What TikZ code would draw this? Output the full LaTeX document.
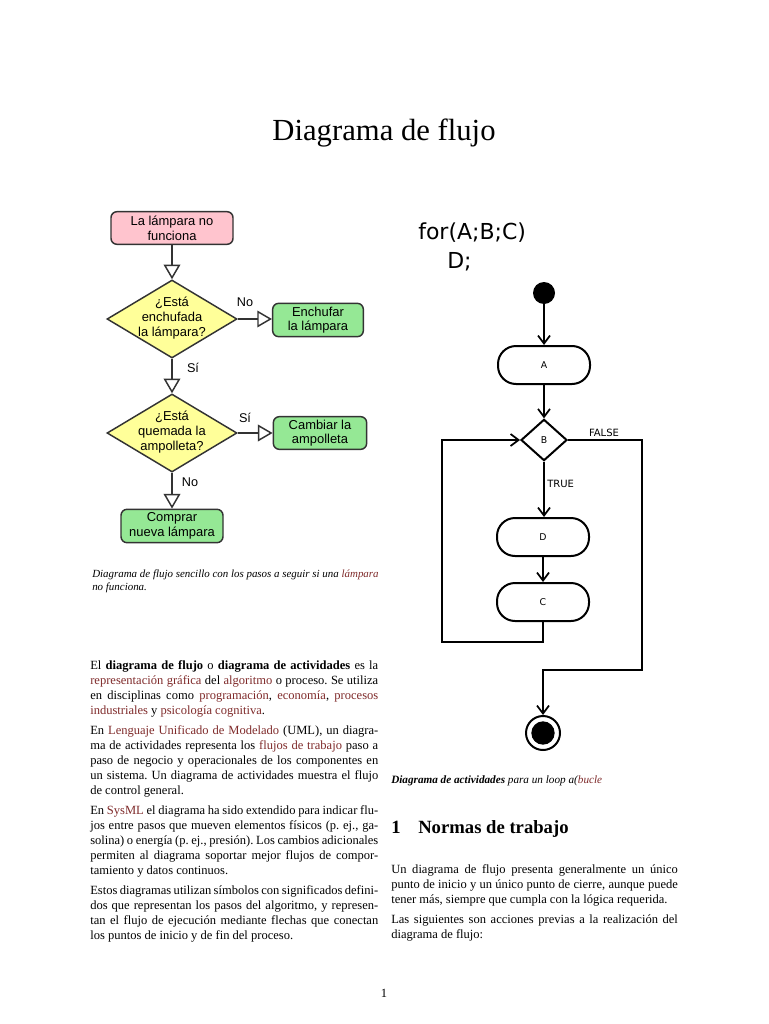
\documentclass[tikz,border=0pt]{standalone}
\usepackage{fontspec}
\setmainfont{Liberation Serif}
\setsansfont{Liberation Sans}
\newfontfamily\dvs{DejaVu Sans}
\usetikzlibrary{arrows.meta,shapes.geometric}
\definecolor{linkred}{HTML}{7F2A2A}
\definecolor{fcpink}{HTML}{FFC4CE}
\definecolor{fcgreen}{HTML}{95E895}
\definecolor{fcyellow}{HTML}{FFFF99}
\definecolor{fcline}{HTML}{333333}
\newcommand\lk[1]{\textcolor{linkred}{#1}}
\newcommand\jl[1]{\makebox[216pt][s]{#1}}
\newcommand\jr[1]{\makebox[215pt][s]{#1}}
\begin{document}
\begin{tikzpicture}[x=0.75pt,y=-0.75pt,
  fcbox/.style={draw=fcline, line width=1.1pt, rounded corners=4.5pt, align=center, inner sep=0pt,
    font=\sffamily\fontsize{9.7}{11}\selectfont},
  fcdia/.style={diamond, draw=fcline, line width=1.1pt, fill=fcyellow, inner sep=0pt,
    minimum width=97.5pt, minimum height=58.5pt},
  fctext/.style={align=center, inner sep=0pt, font=\sffamily\fontsize{9.7}{11}\selectfont},
  fcarrow/.style={draw=fcline, line width=1.1pt, -{Triangle[open,length=11pt,width=12.5pt]}},
  fclab/.style={inner sep=0pt, font=\sffamily\fontsize{9.5}{11}\selectfont},
  act/.style={draw, line width=1.5pt, rounded corners=13.5pt, minimum width=69pt, minimum height=28.5pt,
    inner sep=0pt, font=\dvs\fontsize{7}{8}\selectfont},
  actarrow/.style={line width=1.5pt, -{Straight Barb[length=6pt,width=9pt,line width=1.3pt]}},
  actlab/.style={inner sep=0pt, font=\dvs\fontsize{7.5}{9}\selectfont},
  txt/.style={inner sep=0pt, anchor=base west, font=\frenchspacing\fontsize{9.4}{11.25}\selectfont},
  captxt/.style={inner sep=0pt, anchor=base west, font=\frenchspacing\fontsize{8.2}{10}\selectfont\itshape}
]
\useasboundingbox (0,0) rectangle (768,1024);
\fill[white] (0,0) rectangle (768,1024);

% title
\node[inner sep=0pt, anchor=base, font=\fontsize{23}{27}\selectfont] (title) at (384,140) {Diagrama de flujo};

% ---------- left flowchart ----------
\node[fcbox, fill=fcpink, minimum width=91.5pt, minimum height=24.5pt] (p1) at (172,228) {La lámpara no\\funciona};
\node[fcdia] (d1) at (172,319) {};
\node[fctext] (d1t) at (172,318) {¿Está\\enchufada\\la lámpara?};
\node[fcbox, fill=fcgreen, minimum width=68pt, minimum height=25pt] (e1) at (318,320) {Enchufar\\la lámpara};
\node[fcdia] (d2) at (172,433) {};
\node[fctext] (d2t) at (172,432) {¿Está\\quemada la\\ampolleta?};
\node[fcbox, fill=fcgreen, minimum width=70pt, minimum height=24.5pt] (c1) at (320,433) {Cambiar la\\ampolleta};
\node[fcbox, fill=fcgreen, minimum width=76.5pt, minimum height=25pt] (n1) at (172,526) {Comprar\\nueva lámpara};

\draw[fcarrow] (p1) -- (d1);
\draw[fcarrow] (d1.east) -- (e1.west |- d1.east);
\draw[fcarrow] (d1) -- (d2);
\draw[fcarrow] (d2.east) -- (c1.west |- d2.east);
\draw[fcarrow] (d2) -- (n1);

\node[fclab] (no1) at (245,302) {No};
\node[fclab] (si1) at (193,368) {Sí};
\node[fclab] (si2) at (245,418) {Sí};
\node[fclab] (no2) at (190,482) {No};

% caption 1
\node[captxt] (cap1a) at (92,577) {Diagrama de flujo sencillo con los pasos a seguir si una \lk{lámpara}};
\node[captxt] (cap1b) at (92,590) {no funciona.};

% ---------- right activity diagram ----------
\node[inner sep=0pt, anchor=base west, font=\dvs\fontsize{16.5}{20}\selectfont] (code1) at (418,239) {for(A;B;C)};
\node[inner sep=0pt, anchor=base west, font=\dvs\fontsize{16.5}{20}\selectfont] (code2) at (447,268) {D;};

\node[circle, fill=black, minimum size=16.5pt, inner sep=0pt] (start) at (544,293) {};
\node[act] (A) at (544,365) {A};
\node[diamond, draw, line width=1.5pt, minimum width=34.5pt, minimum height=31pt, inner sep=0pt,
  font=\dvs\fontsize{7}{8}\selectfont] (B) at (544,440) {B};
\node[act] (D) at (543,537) {D};
\node[act] (C) at (543,602) {C};
\node[circle, draw, line width=1.5pt, minimum size=25.5pt, inner sep=0pt] (endo) at (543,733) {};
\node[circle, fill=black, minimum size=17.5pt, inner sep=0pt] (endi) at (543,733) {};

\coordinate (f1) at (642,670);
\coordinate (f2) at (543,670);
\coordinate (g1) at (543,642);
\coordinate (g2) at (442,642);

\draw[actarrow] (start) -- (A);
\draw[actarrow] (A) -- (B);
\draw[actarrow] (B.south) -- (B.south |- D.north);
\draw[actarrow] (D) -- (C);
\draw[actarrow] (B.east) -| (f1) -- (f2) -- (endo);
\draw[actarrow] (C.south) -- (g1) -- (g2) |- (B.west);

\node[actlab] (false) at (604,433) {FALSE};
\node[actlab, anchor=west] (true) at (547,484) {TRUE};

% caption 2
\node[captxt, font=\fontsize{8.4}{10}\selectfont\itshape] (cap2) at (391,783) {\textbf{Diagrama de actividades} para un loop a(\lk{bucle}};

% section
\node[inner sep=0pt, anchor=base west, font=\fontsize{14}{17}\selectfont\bfseries] (secn) at (391,833) {1};
\node[inner sep=0pt, anchor=base west, font=\fontsize{14}{17}\selectfont\bfseries] (sect) at (418,833) {Normas de trabajo};

% ---------- left column text ----------
\node[txt] (l1) at (90,669) {\jl{El \textbf{diagrama de flujo} o \textbf{diagrama de actividades} es la}};
\node[txt] (l2) at (90,684) {\jl{\lk{representación gráfica} del \lk{algoritmo} o proceso. Se utiliza}};
\node[txt] (l3) at (90,699) {\jl{en disciplinas como \lk{programación}, \lk{economía}, \lk{procesos}}};
\node[txt] (l4) at (90,714) {\lk{industriales} y \lk{psicología cognitiva}.};

\node[txt] (l5) at (90,734) {\jl{En \lk{Lenguaje Unificado de Modelado} (UML), un diagra-}};
\node[txt] (l6) at (90,749) {\jl{ma de actividades representa los \lk{flujos de trabajo} paso a}};
\node[txt] (l7) at (90,764) {\jl{paso de negocio y operacionales de los componentes en}};
\node[txt] (l8) at (90,779) {\jl{un sistema. Un diagrama de actividades muestra el flujo}};
\node[txt] (l9) at (90,794) {de control general.};

\node[txt] (l10) at (90,814) {\jl{En \lk{SysML} el diagrama ha sido extendido para indicar flu-}};
\node[txt] (l11) at (90,829) {\jl{jos entre pasos que mueven elementos físicos (p. ej., ga-}};
\node[txt] (l12) at (90,844) {\jl{solina) o energía (p. ej., presión). Los cambios adicionales}};
\node[txt] (l13) at (90,859) {\jl{permiten al diagrama soportar mejor flujos de compor-}};
\node[txt] (l14) at (90,874) {tamiento y datos continuos.};

\node[txt] (l15) at (90,894) {\jl{Estos diagramas utilizan símbolos con significados defini-}};
\node[txt] (l16) at (90,909) {\jl{dos que representan los pasos del algoritmo, y represen-}};
\node[txt] (l17) at (90,924) {\jl{tan el flujo de ejecución mediante flechas que conectan}};
\node[txt] (l18) at (90,939) {los puntos de inicio y de fin del proceso.};

% ---------- right column text ----------
\node[txt] (r1) at (391,873) {\jr{Un diagrama de flujo presenta generalmente un único}};
\node[txt] (r2) at (391,888) {\jr{punto de inicio y un único punto de cierre, aunque puede}};
\node[txt] (r3) at (391,903) {tener más, siempre que cumpla con la lógica requerida.};
\node[txt] (r4) at (391,923) {\jr{Las siguientes son acciones previas a la realización del}};
\node[txt] (r5) at (391,938) {diagrama de flujo:};

% page number
\node[txt, anchor=base] (pg) at (384,997) {1};
\end{tikzpicture}
\end{document}
